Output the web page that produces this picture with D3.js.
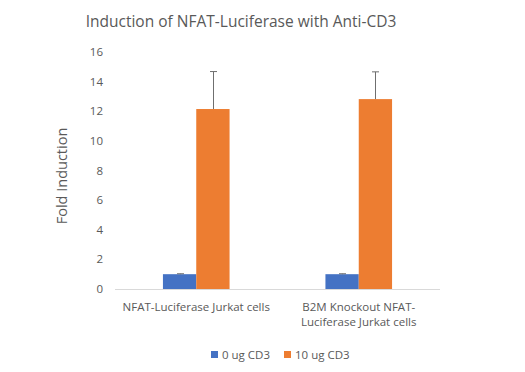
<!DOCTYPE html>
<html><head><meta charset="utf-8">
<script src="https://cdn.jsdelivr.net/npm/d3@7"></script>
<style>body{margin:0;background:#fff}svg{display:block}text{font-family:"Open Sans",sans-serif;fill:#595959}</style>
</head><body>
<svg id="c" width="525" height="372"></svg>
<script>
const categories = [["NFAT-Luciferase Jurkat cells"], ["B2M Knockout NFAT-", "Luciferase Jurkat cells"]];
const seriesNames = ["0 ug CD3", "10 ug CD3"];
const values0 = [1.0, 1.0];
const values10 = [12.15, 12.82];
const err0 = [0.03, 0.03];
const err10 = [2.53, 1.84];
const yTicks = [0, 2, 4, 6, 8, 10, 12, 14, 16];
const colors = ["#4472c4", "#ed7d31"];

const svg = d3.select("#c");
const pLeft = 115, pRight = 440, pTop = 52, pBottom = 289;
const x0 = d3.scaleBand().domain(d3.range(categories.length)).range([pLeft, pRight]).paddingInner(0.59).paddingOuter(0.295);
const x1 = d3.scaleBand().domain([0, 1]).range([0, x0.bandwidth()]);
const y = d3.scaleLinear().domain([0, 16]).range([pBottom, pTop]);

svg.append("g").selectAll("text").data(yTicks).join("text")
  .attr("x", 103).attr("y", d => y(d)).attr("dy", "0.35em").attr("text-anchor", "end")
  .attr("font-size", 11.5).text(d => d);

svg.append("line").attr("x1", pLeft).attr("x2", pRight).attr("y1", pBottom + 0.5).attr("y2", pBottom + 0.5)
  .attr("stroke", "#d9d9d9").attr("stroke-width", 1);

const series = [values0, values10];
const errs = [err0, err10];
series.forEach((vals, s) => {
  const g = svg.append("g");
  g.selectAll("rect").data(vals).join("rect")
    .attr("x", (d, i) => x0(i) + x1(s)).attr("width", x1.bandwidth())
    .attr("y", d => y(d)).attr("height", d => y(0) - y(d))
    .attr("fill", colors[s]);
  vals.forEach((d, i) => {
    const cx = Math.round(x0(i) + x1(s) + x1.bandwidth() / 2) + 0.5;
    const yt = y(d + errs[s][i]);
    g.append("line").attr("x1", cx).attr("x2", cx).attr("y1", y(d)).attr("y2", yt).attr("stroke", "#6f6f6f").attr("stroke-width", 1);
    g.append("line").attr("x1", cx - 3.5).attr("x2", cx + 3.5).attr("y1", yt).attr("y2", yt).attr("stroke", "#6f6f6f").attr("stroke-width", 1);
  });
});

categories.forEach((lines, i) => {
  const cx = x0(i) + x0.bandwidth() / 2;
  lines.forEach((t, j) => {
    svg.append("text").attr("x", cx).attr("y", 311 + j * 15).attr("text-anchor", "middle")
      .attr("font-size", 11.5).text(t);
  });
});

svg.append("text").attr("x", 241).attr("y", 27).attr("text-anchor", "middle").attr("font-size", 15.5).text("Induction of NFAT-Luciferase with Anti-CD3");

svg.append("text").attr("transform", "translate(67,176) rotate(-90)").attr("text-anchor", "middle").attr("font-size", 14.5).text("Fold Induction");

const lg = svg.append("g");
const lx = [211, 284];
seriesNames.forEach((n, s) => {
  lg.append("rect").attr("x", lx[s]).attr("y", 351).attr("width", 7).attr("height", 7).attr("fill", colors[s]);
  lg.append("text").attr("x", lx[s] + 11).attr("y", 358.5).attr("font-size", 11.5).text(n);
});
</script>
</body></html>
